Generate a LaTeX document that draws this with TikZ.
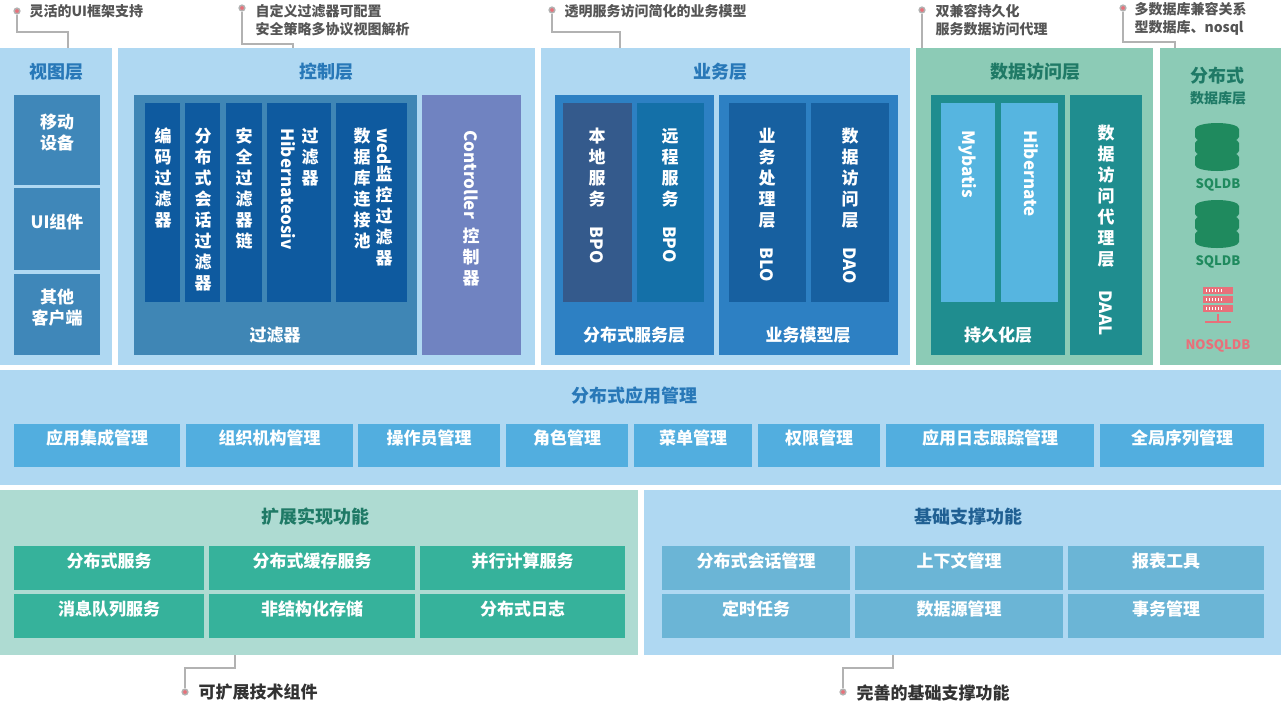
\documentclass[tikz,border=0pt]{standalone}
\usepackage{fontspec}
\setmainfont{Noto Sans CJK SC}
\usepackage{tikz}
\usetikzlibrary{fit,positioning}
\definecolor{panelblue}{HTML}{AFD8F2}
\definecolor{viewbox}{HTML}{3F87B9}
\definecolor{filtbox}{HTML}{3F86B5}
\definecolor{filtcol}{HTML}{0E5A9F}
\definecolor{ctrlbox}{HTML}{7083C1}
\definecolor{bizbox}{HTML}{2D80C3}
\definecolor{bizA}{HTML}{345A8C}
\definecolor{bizB}{HTML}{1470A8}
\definecolor{bizC}{HTML}{1760A0}
\definecolor{panelgreen}{HTML}{8CCBB6}
\definecolor{teal}{HTML}{1F8D8F}
\definecolor{skyin}{HTML}{56B5E0}
\definecolor{titleblue}{HTML}{2878B8}
\definecolor{titlegreen}{HTML}{1F7A66}
\definecolor{mgmtbox}{HTML}{52AEDF}
\definecolor{extpanel}{HTML}{AEDBD2}
\definecolor{extbox}{HTML}{36B29B}
\definecolor{basebox}{HTML}{6BB5D6}
\definecolor{dbgreen}{HTML}{1F8A5E}
\definecolor{nosql}{HTML}{E8707A}
\definecolor{notegray}{HTML}{555555}
\tikzset{
  box/.style={fit={#1}, inner sep=0pt, draw=none},
  title/.style={font=\fontsize{18}{22}\selectfont\bfseries, text=titleblue},
  vcol/.style={anchor=north, align=center, text=white, inner sep=0pt,
    font=\fontsize{17}{21}\selectfont\bfseries},
  hlabel/.style={text=white, font=\fontsize{17}{21}\selectfont\bfseries},
  note/.style={anchor=west, align=left, text=notegray,
    font=\fontsize{14}{18}\selectfont\bfseries},
  dot/.style={circle, fill=nosql, draw=gray!60, line width=1.5pt, inner sep=2pt},
  lead/.style={draw=gray!60, line width=1.2pt}
}
\begin{document}
\begin{tikzpicture}[x=1pt,y=-1pt]
\useasboundingbox (0,0) rectangle (1281,705);
% top notes
\node[dot] (d1) at (17,11) {};
\node[note] (n1) at (26,11) {灵活的UI框架支持};
\node[dot] (d2) at (242,8) {};
\node[note] (n2) at (252,20) {自定义过滤器可配置\\安全策略多协议视图解析};
\node[dot] (d3) at (552,10) {};
\node[note] (n3) at (561,11) {透明服务访问简化的业务模型};
\node[dot] (d4) at (922,10) {};
\node[note] (n4) at (932,20) {双兼容持久化\\服务数据访问代理};
\node[dot] (d5) at (1123,8) {};
\node[note] (n5) at (1131,19) {多数据库兼容关系\\型数据库、nosql};
\coordinate (t1) at (68,48);
\coordinate (t2) at (293,48);
\coordinate (t3) at (620,48);
\coordinate (t4) at (922,48);
\coordinate (t5) at (1175,48);
\draw[lead] (d1) |- (68,32) -- (t1);
\draw[lead] (d2) |- (293,44) -- (t2);
\draw[lead] (d3) |- (620,32) -- (t3);
\draw[lead] (d4) -- (t4);
\draw[lead] (d5) |- (1175,42) -- (t5);
% panels
\node[box={(0,48)(112,365)}, fill=panelblue] (view) {};
\node[box={(118,48)(535,365)}, fill=panelblue] (ctrl) {};
\node[box={(541,48)(910,365)}, fill=panelblue] (biz) {};
\node[box={(916,48)(1153,365)}, fill=panelgreen] (dao) {};
\node[box={(1160,48)(1281,365)}, fill=panelgreen] (db) {};
\node[title] at (56,72) {视图层};
\node[title] at (326,72) {控制层};
\node[title] at (720,72) {业务层};
\node[title, text=titlegreen] at (1035,72) {数据访问层};
\node[title, text=titlegreen] at (1217,76) {分布式};
\node[title, text=titlegreen, font=\fontsize{14}{18}\selectfont\bfseries] at (1218,98) {数据库层};
% view layer
\node[box={(14,95)(100,185)}, fill=viewbox, hlabel, align=center] (mob) {移动\\设备};
\node[box={(14,188)(100,270)}, fill=viewbox, hlabel] (ui) {UI组件};
\node[box={(14,274)(100,355)}, fill=viewbox, hlabel, align=center] (cli) {其他\\客户端};
% control layer
\node[box={(134,95)(417,355)}, fill=filtbox] (filt) {};
\node[hlabel] at (275,335) {过滤器};
\node[box={(145,103)(180,302)}, fill=filtcol] (f1) {};
\node[box={(185,103)(220,302)}, fill=filtcol] (f2) {};
\node[box={(226,103)(262,302)}, fill=filtcol] (f3) {};
\node[box={(267,103)(331,302)}, fill=filtcol] (f4) {};
\node[box={(336,103)(407,302)}, fill=filtcol] (f5) {};
\node[vcol] at (163,128) {编\\码\\过\\滤\\器};
\node[vcol] at (203,128) {分\\布\\式\\会\\话\\过\\滤\\器};
\node[vcol] at (244,128) {安\\全\\过\\滤\\器\\链};
\node[vcol] at (310,128) {过\\滤\\器};
\node[vcol, rotate=-90, anchor=west] at (288,128) {Hibernateosiv};
\node[vcol] at (362,128) {数\\据\\库\\连\\接\\池};
\node[vcol] at (384,128) {\rotatebox{-90}{wed}\\监\\控\\过\\滤\\器};
\node[box={(422,95)(521,355)}, fill=ctrlbox] (ctl) {};
\node[vcol] at (471,130) {\rotatebox{-90}{Controller}\\[8pt]控\\制\\器};
% business layer
\node[box={(555,95)(714,355)}, fill=bizbox] (dsl) {};
\node[box={(719,95)(898,355)}, fill=bizbox] (bml) {};
\node[hlabel] at (634,335) {分布式服务层};
\node[hlabel] at (808,335) {业务模型层};
\node[box={(563,103)(632,302)}, fill=bizA] (b1) {};
\node[box={(637,103)(704,302)}, fill=bizB] (b2) {};
\node[box={(729,103)(806,302)}, fill=bizC] (b3) {};
\node[box={(811,103)(889,302)}, fill=bizC] (b4) {};
\node[vcol] at (597,128) {本\\地\\服\\务\\\rotatebox{-90}{BPO}};
\node[vcol] at (670,128) {远\\程\\服\\务\\\rotatebox{-90}{BPO}};
\node[vcol] at (767,128) {业\\务\\处\\理\\层\\\rotatebox{-90}{BLO}};
\node[vcol] at (850,128) {数\\据\\访\\问\\层\\\rotatebox{-90}{DAO}};
% data access layer
\node[box={(931,95)(1065,355)}, fill=teal] (pers) {};
\node[hlabel] at (998,335) {持久化层};
\node[box={(941,103)(995,302)}, fill=skyin] (my) {};
\node[box={(1001,103)(1058,302)}, fill=skyin] (hib) {};
\node[vcol, rotate=-90, anchor=west] at (968,130) {Mybatis};
\node[vcol, rotate=-90, anchor=west] at (1031,130) {Hibernate};
\node[box={(1070,95)(1142,355)}, fill=teal] (daal) {};
\node[vcol] at (1106,125) {数\\据\\访\\问\\代\\理\\层\\[4pt]\rotatebox{-90}{DAAL}};
% databases
\foreach \cy/\nm in {145/sqlA,222/sqlB}{
  \foreach \k in {0,1,2}{
    \fill[dbgreen] (1195,\cy-16+\k*14) -- (1195,\cy-8+\k*14)
      arc[start angle=180,end angle=0,x radius=22,y radius=6]
      -- (1239,\cy-16+\k*14)
      arc[start angle=0,end angle=-180,x radius=22,y radius=6] -- cycle;
  }
  \node[text=dbgreen, font=\fontsize{13}{15}\selectfont\bfseries] (\nm) at (1218,\cy+40) {SQLDB};
}
\foreach \k in {0,1,2}{
  \fill[nosql] (1203,287+\k*9) rectangle (1233,294+\k*9);
  \foreach \j in {0,...,5}
    \draw[white, line width=0.8pt] (1206+\j*3,289+\k*9) -- (1206+\j*3,292+\k*9);
}
\draw[nosql, line width=2pt] (1218,314) -- (1218,322);
\draw[nosql, line width=2pt] (1205,322) -- (1231,322);
\node[text=nosql, font=\fontsize{13}{15}\selectfont\bfseries] (nos) at (1218,346) {NOSQLDB};
% management row
\node[box={(0,370)(1281,485)}, fill=panelblue] (mgmt) {};
\node[title] at (634,396) {分布式应用管理};
\foreach \xa/\xb/\t in {14/180/应用集成管理, 186/353/组织机构管理, 358/500/操作员管理,
  506/628/角色管理, 634/752/菜单管理, 758/880/权限管理, 886/1094/应用日志跟踪管理,
  1100/1264/全局序列管理}
  \node[box={(\xa,424)(\xb,467)}, fill=mgmtbox, hlabel] {\t};
% extension
\node[box={(0,490)(638,655)}, fill=extpanel] (ext) {};
\node[title, text=titlegreen] at (315,517) {扩展实现功能};
\foreach \xa/\xb/\ya/\yb/\t in {14/204/546/590/分布式服务, 209/415/546/590/分布式缓存服务,
  420/625/546/590/并行计算服务, 14/204/594/638/消息队列服务,
  209/415/594/638/非结构化存储, 420/625/594/638/分布式日志}
  \node[box={(\xa,\ya)(\xb,\yb)}, fill=extbox, hlabel] {\t};
% base support
\node[box={(644,490)(1281,655)}, fill=panelblue] (base) {};
\node[title, text=titleblue!80!black] at (968,517) {基础支撑功能};
\foreach \xa/\xb/\ya/\yb/\t in {662/850/546/590/分布式会话管理, 855/1063/546/590/上下文管理,
  1068/1264/546/590/报表工具, 662/850/594/638/定时任务,
  855/1063/594/638/数据源管理, 1068/1264/594/638/事务管理}
  \node[box={(\xa,\ya)(\xb,\yb)}, fill=basebox, hlabel] {\t};
% bottom notes
\coordinate (bt1) at (235,655);
\coordinate (bt2) at (893,655);
\node[dot] (d6) at (185,692) {};
\node[note, text=black!80, font=\fontsize{17}{20}\selectfont\bfseries] at (195,692) {可扩展技术组件};
\node[dot] (d7) at (843,692) {};
\node[note, text=black!80, font=\fontsize{17}{20}\selectfont\bfseries] at (853,693) {完善的基础支撑功能};
\draw[lead] (bt1) |- (185,668) -- (d6);
\draw[lead] (bt2) |- (843,668) -- (d7);
\end{tikzpicture}
\end{document}
